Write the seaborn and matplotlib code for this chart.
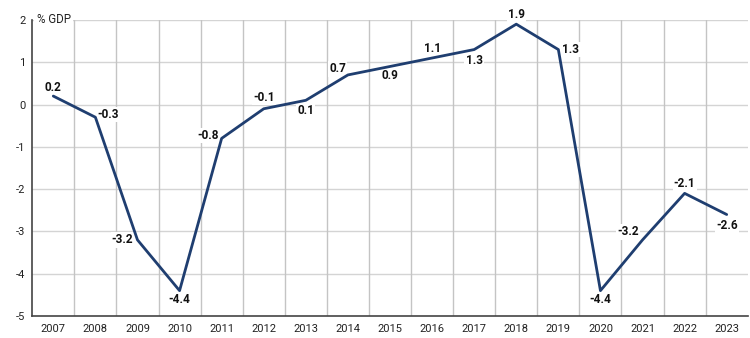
import matplotlib
matplotlib.use("Agg")
import matplotlib.pyplot as plt
import seaborn as sns
import pandas as pd

years = ["2007", "2008", "2009", "2010", "2011", "2012", "2013", "2014", "2015",
         "2016", "2017", "2018", "2019", "2020", "2021", "2022", "2023"]
values = [0.2, -0.3, -3.2, -4.4, -0.8, -0.1, 0.1, 0.7, 0.9,
          1.1, 1.3, 1.9, 1.3, -4.4, -3.2, -2.1, -2.6]
# label placement relative to point (pixels: dx, dy, ha)
label_pos = [(0, 9, "center"), (2, 3, "left"), (-4, 0, "right"), (0, -9, "center"),
             (-3, 3, "right"), (0, 11, "center"), (0, -10, "center"), (-2, 6, "right"),
             (0, -9, "center"), (0, 10, "center"), (0, -11, "center"), (0, 10, "center"),
             (4, 0, "left"), (0, -9, "center"), (-4, 8, "right"), (0, 10, "center"),
             (0, -11, "center")]

sns.set_theme(style="white")
plt.rcParams["font.family"] = ["Roboto", "DejaVu Sans"]

df = pd.DataFrame({"x": range(len(years)), "y": values})

fig = plt.figure(figsize=(7.5, 3.38), dpi=100)
ax = fig.add_axes([0.043, 0.065, 0.954, 0.876])

sns.lineplot(data=df, x="x", y="y", ax=ax, color="#1f3e70", linewidth=2.0, zorder=6)

ax.set_xlim(-0.5, len(years) - 0.5)
ax.set_ylim(-5, 2)
ax.set_yticks(range(-5, 3))
ax.set_yticklabels([str(v) for v in range(-5, 3)])
ax.set_xticks(range(len(years)))
ax.set_xticklabels(years)
ax.set_xticks([i + 0.5 for i in range(len(years) - 1)], minor=True)

ax.grid(False)
for yv in range(-4, 3):
    ax.axhline(yv, color="#d4d4d4", linewidth=1.0, zorder=0)
ax.grid(which="minor", axis="x", color="#c4c4c4", linewidth=1.0, zorder=0)

ax.tick_params(axis="both", which="both", length=0, labelsize=8, colors="#222222", pad=5)
ax.tick_params(axis="x", pad=6)
for s in ["top", "right"]:
    ax.spines[s].set_visible(False)
for s in ["left", "bottom"]:
    ax.spines[s].set_color("#444444")
    ax.spines[s].set_linewidth(1.2)
ax.set_xlabel("")
ax.set_ylabel("")

for i, (v, (dx, dy, ha)) in enumerate(zip(values, label_pos)):
    ax.annotate(f"{v:.1f}", (i, v), xytext=(dx * 0.72, dy * 0.72), textcoords="offset points",
                ha=ha, va="center", fontsize=8.5, fontweight="bold", color="#111111",
                bbox=dict(boxstyle="square,pad=0.1", fc="white", ec="none"), zorder=5)

ax.text(0.006, 2, "% GDP", transform=ax.get_yaxis_transform(), ha="left", va="center",
        fontsize=8.3, color="#222222",
        bbox=dict(boxstyle="square,pad=0.25", fc="white", ec="none"), zorder=5)

fig.savefig("out.png", dpi=100)
